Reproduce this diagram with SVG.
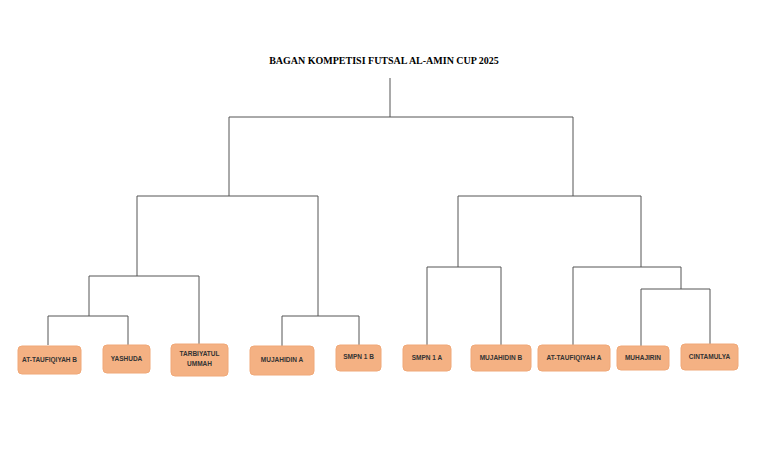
<svg xmlns="http://www.w3.org/2000/svg" width="768" height="466" viewBox="0 0 768 466">
<style>
.b{fill:#f4b183;stroke:#f0a878;stroke-width:1}
.t{font-family:"Liberation Sans",sans-serif;font-size:6.5px;font-weight:bold;fill:#333;text-anchor:middle}
.c{fill:none;stroke:#555;stroke-width:1}
</style>
<rect width="768" height="466" fill="#fff"/>
<text x="384" y="64" font-family="Liberation Serif,serif" font-size="10" font-weight="bold" text-anchor="middle">BAGAN KOMPETISI FUTSAL AL-AMIN CUP 2025</text>
<g id="connectors" class="c">
<path d="M390 78V117M229 196V117H573V196"/>
<path d="M137 276V196H318V316M89 316V276H199V344M48 345V316H128V345M282 346V316H359V345"/>
<path d="M458 267V196H641V267M427 345V267H501V345M573 345V267H681V289M641 346V289H710V344"/>
</g>
<g id="n1"><rect class="b" x="18" y="346" width="63" height="28" rx="4"/><text class="t" x="49.5" y="362">AT-TAUFIQIYAH B</text></g>
<g id="n2"><rect class="b" x="103" y="345" width="47" height="28" rx="4"/><text class="t" x="126.5" y="361">YASHUDA</text></g>
<g id="n3"><rect class="b" x="171" y="344" width="57" height="32" rx="4"/><text class="t" x="199.5" y="356">TARBIYATUL</text><text class="t" x="199.5" y="366">UMMAH</text></g>
<g id="n4"><rect class="b" x="250" y="346" width="64" height="29" rx="4"/><text class="t" x="282" y="362">MUJAHIDIN A</text></g>
<g id="n5"><rect class="b" x="336" y="345" width="45" height="26" rx="4"/><text class="t" x="358.5" y="359">SMPN 1 B</text></g>
<g id="n6"><rect class="b" x="403" y="345" width="48" height="26" rx="4"/><text class="t" x="427" y="360">SMPN 1 A</text></g>
<g id="n7"><rect class="b" x="471" y="345" width="60" height="26" rx="4"/><text class="t" x="501" y="360">MUJAHIDIN B</text></g>
<g id="n8"><rect class="b" x="538" y="345" width="72" height="26" rx="4"/><text class="t" x="574" y="360">AT-TAUFIQIYAH A</text></g>
<g id="n9"><rect class="b" x="617" y="346" width="52" height="24" rx="4"/><text class="t" x="643" y="360">MUHAJIRIN</text></g>
<g id="n10"><rect class="b" x="681" y="344" width="57" height="26" rx="4"/><text class="t" x="709.5" y="359">CINTAMULYA</text></g>
</svg>
